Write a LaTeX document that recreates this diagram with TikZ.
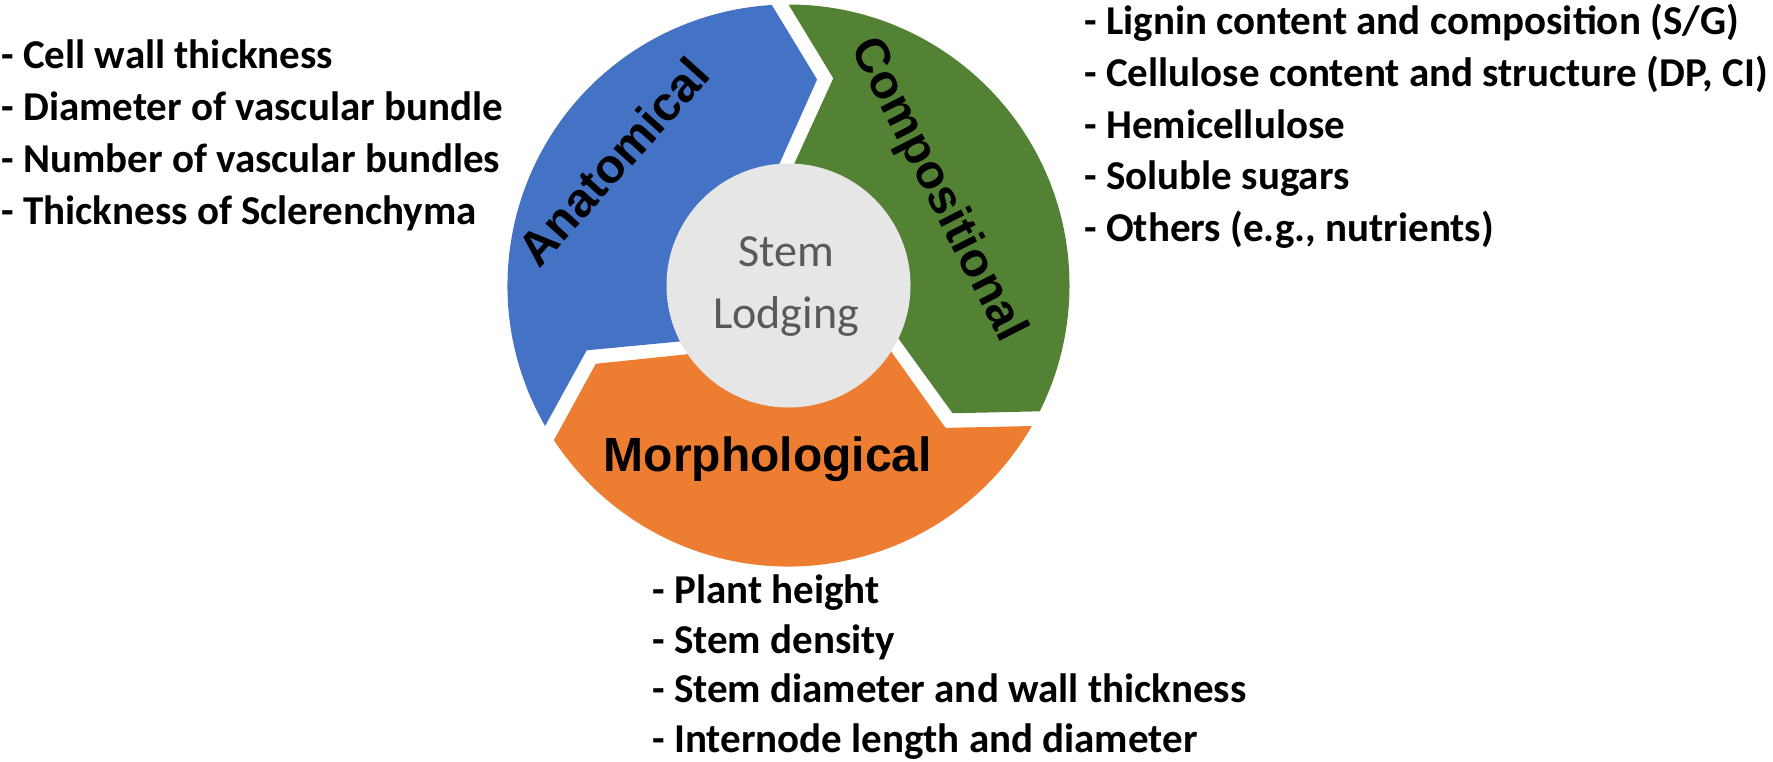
\documentclass[tikz,border=0pt]{standalone}
\usepackage{fontspec}
\setmainfont{Carlito}
\newfontfamily\lsans{Liberation Sans}
\usetikzlibrary{calc}
\definecolor{cblue}{HTML}{4472C4}
\definecolor{cgreen}{HTML}{548235}
\definecolor{corange}{HTML}{ED7D31}
\definecolor{cgrey}{HTML}{E7E6E6}
\definecolor{ctext}{HTML}{595959}
\begin{document}
\begin{tikzpicture}[x=0.5pt,y=-0.5pt,
  seglabel/.style={font=\lsans\bfseries\fontsize{24}{28}\selectfont, inner sep=0pt, anchor=base},
  listtext/.style={font=\bfseries\fontsize{20.5}{25.85}\selectfont, align=left, inner sep=0pt, anchor=base west},
]
\useasboundingbox (0,0) rectangle (1773,761);
\begin{scope}[shift={(788.5,285.5)}, x=1pt, y=1pt]
 \fill[cblue] (210:140.5) arc[start angle=210, end angle=93.4, radius=140.5] -- (82.1:104) -- ($(82.1:104)!1.25!(93.9:61.75)$) -- (0,0) -- ($(197.8:106)!1.25!(207:61.75)$) -- (197.8:106) -- cycle;
 \fill[cgreen] (90:140.5) arc[start angle=90, end angle=-26.6, radius=140.5] -- (-37.9:104) -- ($(-37.9:104)!1.25!(-26.1:61.75)$) -- (0,0) -- ($(77.8:106)!1.25!(87:61.75)$) -- (77.8:106) -- cycle;
 \fill[corange] (-30:140.5) arc[start angle=-30, end angle=-146.6, radius=140.5] -- (-157.9:104) -- ($(-157.9:104)!1.25!(-146.1:61.75)$) -- (0,0) -- ($(-42.2:106)!1.25!(-33:61.75)$) -- (-42.2:106) -- cycle;
 \node[circle, fill=cgrey, minimum size=122pt, inner sep=0pt] (hub) at (0,0) {};
\end{scope}
\node[font=\fontsize{23}{31}\selectfont, text=ctext, align=center, anchor=base, inner sep=0pt] (hubtext) at (786,328) {Stem\\Lodging};
\node[seglabel, rotate=48] (anat) at (625.8,173) {Anatomical};
\node[seglabel, rotate=-63] (comp) at (926,196) {Compositional};
\node[seglabel] (morph) at (767.7,471.7) {Morphological};
\node[listtext] (anatlist) at (1,224) {- Cell wall thickness\\- Diameter of vascular bundle\\- Number of vascular bundles\\- Thickness of Sclerenchyma};
\node[listtext] (complist) at (1084,241.5) {- Lignin content and composition (S/G)\\- Cellulose content and structure (DP, CI)\\- Hemicellulose\\- Soluble sugars\\- Others (e.g., nutrients)};
\node[listtext, font=\bfseries\fontsize{20.5}{24.85}\selectfont] (morphlist) at (652,752.5) {- Plant height\\- Stem density\\- Stem diameter and wall thickness\\- Internode length and diameter};
\end{tikzpicture}
\end{document}
